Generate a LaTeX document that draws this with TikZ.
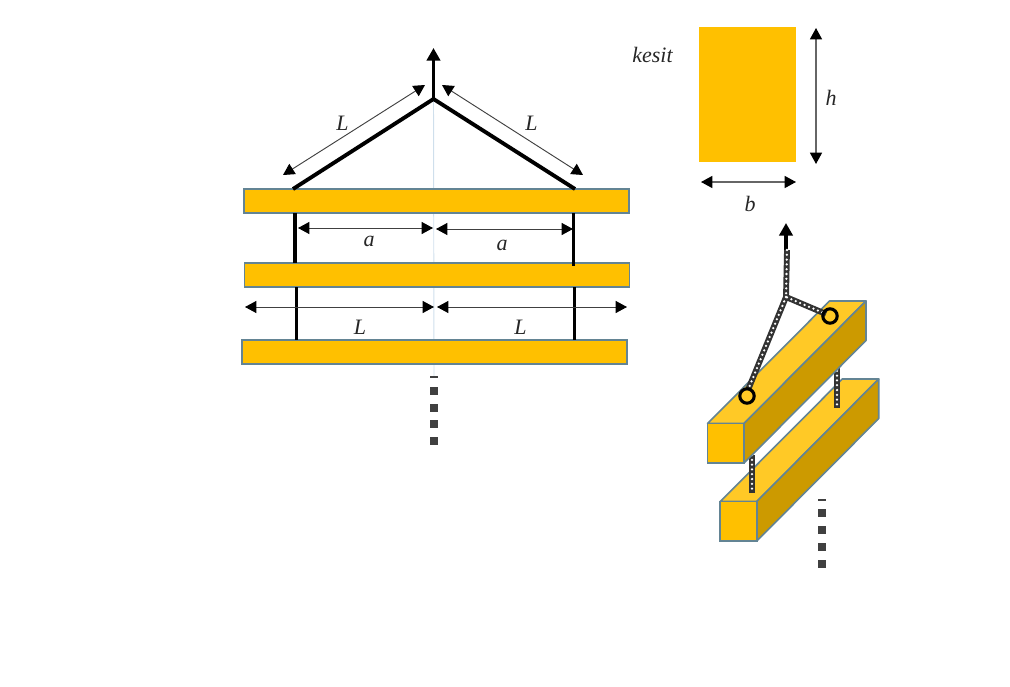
\documentclass[tikz,border=0pt]{standalone}
\usepackage{fontspec}
\setmainfont{Liberation Serif}
\usetikzlibrary{arrows.meta}
\definecolor{gold}{HTML}{FFC000}
\definecolor{goldtop}{HTML}{FFC926}
\definecolor{goldside}{HTML}{CC9A00}
\definecolor{edge}{HTML}{638494}
\definecolor{squarec}{HTML}{404040}
\definecolor{axisc}{HTML}{CFDFEC}
\tikzset{
  beam/.style={draw=edge,fill=gold,line width=1.2pt,inner sep=0pt,outer sep=0pt,minimum width=288.75pt,minimum height=18pt},
  frontface/.style={draw=edge,fill=gold,line width=1.2pt,inner sep=0pt,outer sep=0pt,minimum width=27.4pt,minimum height=29.6pt},
  topface/.style={draw=edge,fill=goldtop,line width=1.2pt,line join=round},
  sideface/.style={draw=edge,fill=goldside,line width=1.2pt,line join=round},
  section/.style={fill=gold,inner sep=0pt,outer sep=0pt,minimum width=72.4pt,minimum height=101.6pt},
  rod/.style={draw=black,line width=2.9pt},
  liftarrow/.style={draw=black,line width=2.7pt,-{Triangle[length=9.5pt,width=10pt]}},
  dim/.style={draw=black!75,line width=.7pt,{Triangle[length=8.5pt,width=9pt,color=black]}-{Triangle[length=8.5pt,width=9pt,color=black]}},
  dimthick/.style={draw=black!60,line width=1pt,{Triangle[length=8.5pt,width=9pt,color=black]}-{Triangle[length=8.5pt,width=9pt,color=black]}},
  lab/.style={font=\itshape\fontsize{16.5pt}{18pt}\selectfont,text=black!85,inner sep=0pt},
  axisline/.style={draw=axisc,line width=.7pt},
  squaredot/.style={fill=squarec,inner sep=0pt,minimum size=6pt},
  thindash/.style={fill=squarec,inner sep=0pt,minimum width=6pt,minimum height=1pt},
  chaindark/.style={draw=black!80,line width=4.4pt,line join=round},
  chainlight/.style={draw=white,line width=1.9pt,line cap=round,dash pattern=on 0pt off 3.6pt,line join=round},
  ringc/.style={draw=black,line width=2.3pt,circle,inner sep=0pt,minimum size=10.8pt},
}
\begin{document}
\begin{tikzpicture}[x=0.75pt,y=-0.75pt]
\useasboundingbox (0,0) rectangle (1010,686);
% --- left front view ---
\coordinate (apex) at (433.5,99);
\coordinate (lifttop) at (433.5,48);
\coordinate (axisend) at (434,377);
\draw[axisline] (apex) -- (axisend);
\node[beam] (b1) at (436.5,201) {};
\node[beam] (b2) at (437,275) {};
\node[beam] (b3) at (434.5,352) {};
\coordinate (rl) at (293,189);
\coordinate (rr) at (575,189);
\draw[rod,line join=miter] (rl) -- (apex) -- (rr);
\draw[liftarrow] (apex) -- (lifttop);
\coordinate (h1a) at (295,213); \coordinate (h1b) at (295,263);
\coordinate (h2a) at (573.5,213); \coordinate (h2b) at (573.5,266);
\coordinate (h3a) at (296.5,287); \coordinate (h3b) at (296.5,340);
\coordinate (h4a) at (574.5,287); \coordinate (h4b) at (574.5,340);
\draw[rod] (h1a) -- (h1b);
\draw[rod] (h2a) -- (h2b);
\draw[rod] (h3a) -- (h3b);
\draw[rod] (h4a) -- (h4b);
\coordinate (d1a) at (283,175); \coordinate (d1b) at (425,85);
\coordinate (d2a) at (442,85); \coordinate (d2b) at (583,175);
\draw[dim] (d1a) -- (d1b);
\draw[dim] (d2a) -- (d2b);
\coordinate (d3a) at (298,228); \coordinate (d3b) at (433,228);
\coordinate (d4a) at (436,229); \coordinate (d4b) at (573,229);
\draw[dim] (d3a) -- (d3b);
\draw[dim] (d4a) -- (d4b);
\coordinate (d5a) at (245,307); \coordinate (d5b) at (434,307);
\coordinate (d6a) at (437,307); \coordinate (d6b) at (627,307);
\draw[dim] (d5a) -- (d5b);
\draw[dim] (d6a) -- (d6b);
\node[lab] (l1) at (342.5,123) {L};
\node[lab] (l2) at (531.5,123) {L};
\node[lab] (a1) at (369,241) {a};
\node[lab] (a2) at (502,245) {a};
\node[lab] (l3) at (360,327) {L};
\node[lab] (l4) at (520.5,327) {L};
\node[thindash] (ld0) at (433.5,377) {};
\node[squaredot] (ld1) at (433.5,391) {};
\node[squaredot] (ld2) at (433.5,407.5) {};
\node[squaredot] (ld3) at (433.5,424) {};
\node[squaredot] (ld4) at (433.5,441) {};
% --- section ---
\node[section] (sec) at (747.75,94.25) {};
\node[lab] (kes) at (652.5,55) {kesit};
\node[lab] (hh) at (831,98) {h};
\node[lab] (bb) at (750,204) {b};
\coordinate (ha) at (816,28); \coordinate (hb) at (816,164);
\coordinate (ba) at (701,182); \coordinate (bc) at (796,182);
\draw[dimthick] (ha) -- (hb);
\draw[dimthick] (ba) -- (bc);
% --- perspective view: lower chains behind the upper beam ---
\coordinate (c3a) at (837,366); \coordinate (c3b) at (837,408);
\coordinate (c4a) at (752,455); \coordinate (c4b) at (752,493);
% lower beam
\node[frontface] (f2) at (738.5,521.25) {};
\draw[topface] (f2.north west) -- (f2.north east) -- ++(122,-122.5) -- ++(-36.5,0) -- cycle;
\draw[sideface] (f2.north east) -- (f2.south east) -- ++(122,-122.5) -- ++(0,-39.5) -- cycle;
\node[frontface] at (f2) {};
\draw[chaindark] (c3a) -- (c3b);
\draw[chainlight] (c3a) -- (c3b);
\draw[chaindark] (c4a) -- (c4b);
\draw[chainlight] (c4a) -- (c4b);
% upper beam
\node[frontface] (f1) at (725.75,443.25) {};
\draw[topface] (f1.north west) -- (f1.north east) -- ++(122,-122.5) -- ++(-36.5,0) -- cycle;
\draw[sideface] (f1.north east) -- (f1.south east) -- ++(122,-122.5) -- ++(0,-39.5) -- cycle;
\node[frontface] at (f1) {};
% lifting
\coordinate (ltop) at (786,223);
\coordinate (lbot) at (786,285);
\coordinate (ca) at (787,250);
\coordinate (cj) at (786,297);
\coordinate (cr) at (826,314);
\coordinate (cl) at (748,390);
\draw[liftarrow] (lbot) -- (ltop);
\draw[chaindark] (ca) -- (cj) -- (cr);
\draw[chaindark] (cj) -- (cl);
\draw[chainlight] (ca) -- (cj) -- (cr);
\draw[chainlight] (cj) -- (cl);
\node[ringc] (r1) at (830,316) {};
\node[ringc] (r2) at (747,396) {};
\node[thindash] (rd0) at (822,500) {};
\node[squaredot] (rd1) at (822,513) {};
\node[squaredot] (rd2) at (822,530) {};
\node[squaredot] (rd3) at (822,547) {};
\node[squaredot] (rd4) at (822,564) {};
\end{tikzpicture}
\end{document}
